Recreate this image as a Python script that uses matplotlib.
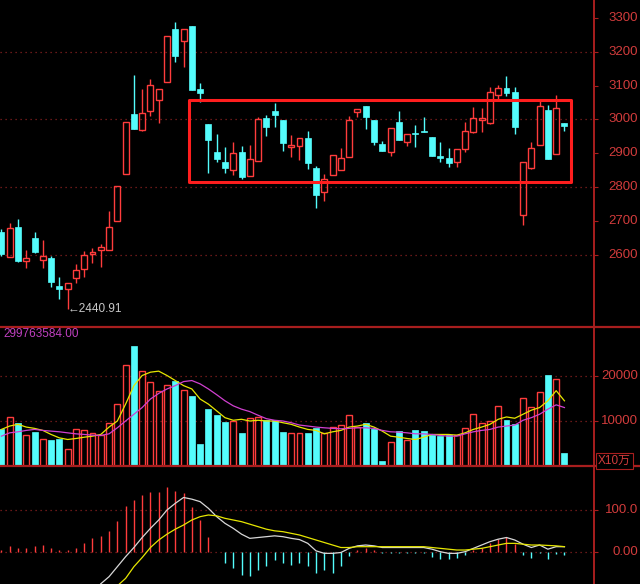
import numpy as np
import matplotlib.pyplot as plt
from matplotlib.patches import Rectangle
from matplotlib.lines import Line2D

# ---------------- datos ----------------
opens = [2668, 2594, 2682, 2582, 2650, 2585, 2591, 2509, 2500, 2532,
         2558, 2603, 2614, 2614, 2700, 2839, 3016, 2969, 3025, 3058,
         3111, 3267, 3232, 3276, 3090, 2986, 2904, 2874, 2851, 2904,
         2833, 2877, 3004, 3025, 2999, 2919, 2922, 2945, 2857, 2786,
         2836, 2851, 2889, 3023, 3040, 2999, 2928, 2904, 2993, 2934,
         2960, 2966, 2948, 2892, 2886, 2874, 2913, 2963, 2999, 2991,
         3072, 3093, 3081, 2718, 2857, 2925, 3028, 2898, 2990]
highs = [2676, 2694, 2706, 2615, 2668, 2644, 2597, 2535, 2518, 2573,
         2612, 2621, 2632, 2730, 2803, 2992, 3131, 3090, 3120, 3090,
         3247, 3288, 3267, 3276, 3108, 2986, 2957, 2919, 2933, 2922,
         2925, 3007, 3013, 3049, 2999, 2954, 2945, 2966, 2863, 2839,
         2895, 2916, 3010, 3030, 3040, 2999, 2937, 2975, 3025, 2957,
         2984, 3007, 2948, 2934, 2916, 2913, 2993, 3037, 3034, 3096,
         3102, 3128, 3096, 2874, 2934, 3054, 3043, 3072, 2990]
lows = [2597, 2594, 2580, 2562, 2606, 2562, 2506, 2471, 2440.91, 2517,
        2535, 2576, 2565, 2614, 2700, 2839, 2972, 2966, 3010, 2990,
        3111, 3170, 3155, 3087, 3052, 2842, 2874, 2842, 2836, 2824,
        2833, 2877, 2951, 2978, 2907, 2889, 2880, 2854, 2739, 2759,
        2836, 2851, 2889, 3008, 2972, 2925, 2907, 2892, 2939, 2922,
        2919, 2963, 2892, 2874, 2860, 2860, 2904, 2960, 2963, 2987,
        3060, 3069, 2957, 2688, 2854, 2925, 2883, 2898, 2966]
closes = [2603, 2679, 2582, 2591, 2609, 2597, 2521, 2500, 2518, 2556,
          2600, 2609, 2623, 2682, 2803, 2992, 2972, 3019, 3102, 3090,
          3247, 3188, 3267, 3087, 3078, 2939, 2883, 2857, 2901, 2830,
          2883, 3001, 2978, 3013, 2931, 2925, 2945, 2872, 2777, 2824,
          2895, 2886, 2999, 3030, 3007, 2934, 2907, 2975, 2939, 2957,
          2957, 2963, 2892, 2886, 2872, 2913, 2966, 3004, 3004, 3081,
          3093, 3078, 2978, 2874, 2916, 3040, 2883, 3034, 2981]

# volumen en unidades de 10万
vols = [8270, 10970, 9480, 6780, 7600, 5890, 5730, 5960, 3710, 8130,
        7980, 7370, 6780, 9480, 13750, 22520, 26630, 21080, 18700, 16740,
        18020, 18990, 16970, 15460, 4990, 12760, 11420, 9840, 10000, 7370,
        10740, 10970, 10220, 10220, 7600, 7370, 7370, 7370, 8500, 7240,
        8650, 9030, 11280, 8650, 9480, 8130, 1010, 5280, 7750, 5730,
        7980, 7750, 6850, 6630, 7000, 6780, 8350, 11650, 9480, 10000,
        13300, 10220, 9250, 15100, 13150, 16370, 20270, 19370, 2998]
ma5 = [8130, 8880, 9260, 8650, 8360, 7910, 7010, 6250, 5890, 6110,
       6400, 6630, 7010, 8650, 10000, 13750, 17860, 20110, 20850, 21080,
       20110, 18990, 17860, 17120, 14880, 13750, 12250, 10740, 10160, 10380,
       10000, 10160, 10000, 10000, 9620, 9260, 8650, 8130, 7910, 7150,
       7600, 7910, 8650, 8880, 9260, 8650, 7750, 6630, 6400, 6110,
       5890, 6400, 7010, 7010, 7010, 6850, 7370, 8130, 8650, 9260,
       10380, 10900, 10610, 11500, 12400, 12990, 14490, 16740, 14490]
ma10 = [6630, 7370, 7600, 7910, 8130, 7910, 7750, 7600, 7370, 7150,
        7010, 6850, 6790, 7150, 8490, 10000, 11500, 12990, 14880, 16130,
        17120, 17860, 18760, 18990, 18250, 17120, 15840, 14490, 13370, 12630,
        12090, 11280, 10520, 10160, 10000, 9620, 9100, 8880, 8650, 8490,
        8360, 8270, 8360, 8490, 8490, 8360, 7910, 7600, 7530, 7370,
        7150, 7150, 7010, 6790, 6630, 6630, 7150, 7600, 7910, 8130,
        8650, 8880, 9100, 10160, 10740, 11500, 12630, 13590, 12990]

macd = [4, 14, 10, 10, 14, 16, 8, 4, 3, 10,
        22, 32, 38, 50, 74, 110, 124, 136, 144, 144,
        154, 146, 140, 106, 76, 35, 0, -28, -40, -56,
        -58, -44, -34, -20, -26, -32, -26, -34, -51, -45,
        -50, -34, -10, 3, 8, 3, -2, -2, -2, -2,
        -2, -2, -12, -18, -18, -16, -8, 5, 10, 20,
        30, 36, 19, -8, -14, -4, -18, -5, -8]
nan = np.nan
dif = [nan] * 12 + [-77, -60, -36, -12, 10, 34, 56, 76,
       100, 116, 130, 126, 120, 104, 84, 68, 56, 42,
       32, 34, 36, 38, 36, 32, 29, 20, 2, -4,
       -4, -2, 8, 14, 16, 14, 10, 10, 10, 10,
       10, 10, 6, 0, -4, -4, 0, 8, 16, 24,
       30, 34, 28, 18, 10, 16, 6, 12, 12]
dea = [nan] * 14 + [-82, -64, -36, -14, 10, 28,
       42, 54, 64, 76, 84, 88, 86, 80, 76, 72,
       66, 60, 54, 50, 48, 44, 40, 34, 28, 22,
       16, 10, 10, 12, 12, 12, 12, 12, 12, 12,
       12, 12, 10, 8, 6, 4, 4, 6, 8, 12,
       16, 20, 20, 18, 16, 16, 15, 14, 12]

price_labels = [2600, 2700, 2800, 2900, 3000, 3100, 3200, 3300]
price_grid = [2600, 2800, 3000, 3200]
vol_labels = [10000, 20000]
macd_labels = [0, 100]
vol_text = '299763584.00'
low_text = '←2440.91'
# rectangulo rojo (indice de vela / precio)
box_x = [22.66, 68.8]
box_y = [2815, 3058]

# ---------------- estilo ----------------
ROJO = '#ff3c3c'
CIAN = '#54fcfc'
EJE = '#a81e1e'
GRID = '#8a2020'
LBL = '#d23c3c'
FUENTE = ['Liberation Sans', 'DejaVu Sans', 'Noto Sans CJK SC']
plt.rcParams['font.family'] = FUENTE

n = len(opens)
x = np.arange(n)
W = 0.72
xlim = (-0.17, 71.57)

fig = plt.figure(figsize=(6.4, 5.84), dpi=100, facecolor='black')
ax1 = fig.add_axes([0, 257 / 584, 594 / 640, 327 / 584])
ax2 = fig.add_axes([0, 118 / 584, 594 / 640, 139 / 584])
ax3 = fig.add_axes([0, 0, 594 / 640, 118 / 584])

def preparar(ax, ylim, ticks, fmt, grid):
    ax.set_facecolor('black')
    ax.set_xlim(*xlim)
    ax.set_ylim(*ylim)
    for s in ax.spines.values():
        s.set_visible(False)
    ax.set_xticks([])
    ax.set_yticks(ticks)
    ax.tick_params(axis='y', left=False, right=True, labelleft=False,
                   labelright=False, length=3, color=EJE, direction='out')
    for g in grid:
        ax.axhline(g, color=GRID, lw=0.9, ls=(0, (1, 3)), zorder=0)
    tr = ax.get_yaxis_transform()
    for t in ticks:
        ax.text(638 / 594, t, fmt(t), transform=tr, ha='right', va='center',
                color=LBL, fontsize=9.5, clip_on=False)

preparar(ax1, (2387, 3353), price_labels, lambda v: '%d' % v, price_grid)
preparar(ax2, (0, 30889), vol_labels, lambda v: '%d' % v, vol_labels)
preparar(ax3, (-77.5, 205.5), macd_labels,
         lambda v: '100.0' if v == 100 else '0.00', macd_labels)

# velas
for i in range(n):
    o, h, l, c = opens[i], highs[i], lows[i], closes[i]
    if c >= o:
        ax1.vlines(i, max(o, c), h, color=ROJO, lw=1, zorder=2)
        ax1.vlines(i, l, min(o, c), color=ROJO, lw=1, zorder=2)
        ax1.add_patch(Rectangle((i - W / 2, o), W, max(c - o, 0.5), fill=False,
                                edgecolor=ROJO, lw=1, zorder=3))
        ax2.add_patch(Rectangle((i - W / 2, 0), W, vols[i], fill=False,
                                edgecolor=ROJO, lw=1, zorder=2))
    else:
        ax1.vlines(i, l, h, color=CIAN, lw=1, zorder=2)
        ax1.add_patch(Rectangle((i - W / 2, c), W, o - c, facecolor=CIAN,
                                edgecolor=CIAN, lw=0.5, zorder=3))
        ax2.add_patch(Rectangle((i - W / 2, 0), W, vols[i], facecolor=CIAN,
                                edgecolor=CIAN, lw=0.5, zorder=2))

ax1.text(8, min(lows), low_text, color='#c8c8c8', fontsize=8.5,
         ha='left', va='center', zorder=4)
ax1.add_patch(Rectangle((box_x[0], box_y[0]), box_x[1] - box_x[0],
                        box_y[1] - box_y[0], fill=False, edgecolor='#ff1e1e',
                        lw=2.2, joinstyle='round', zorder=5))

# volumen
ax2.plot(x, ma5, color='#e6e600', lw=0.9, zorder=4)
ax2.plot(x, ma10, color='#d040d0', lw=0.9, zorder=4)
fig.text(3 / 640, 1 - 334 / 584, vol_text, color='#c040c0', fontsize=8.5,
         ha='left', va='center')
fig.text(598 / 640, 1 - 461 / 584, 'X10万', color=LBL, fontsize=8.5,
         ha='left', va='center',
         bbox=dict(boxstyle='square,pad=0.15', facecolor='black', edgecolor=EJE, lw=0.8))

# MACD
mc = np.array(macd)
ax3.vlines(x[mc >= 0], 0, mc[mc >= 0], color=ROJO, lw=1, zorder=2)
ax3.vlines(x[mc < 0], 0, mc[mc < 0], color=CIAN, lw=1, zorder=2)
ax3.plot(x, dif, color='#d8d8d8', lw=0.9, zorder=3)
ax3.plot(x, dea, color='#e6e600', lw=0.9, zorder=3)

# lineas de separacion
for yy in (327, 466):
    fig.add_artist(Line2D([0, 1], [1 - yy / 584] * 2, color=EJE, lw=1.6))
fig.add_artist(Line2D([594 / 640] * 2, [0, 1], color=EJE, lw=1.4))

fig.savefig('out.png', dpi=100, facecolor='black')
